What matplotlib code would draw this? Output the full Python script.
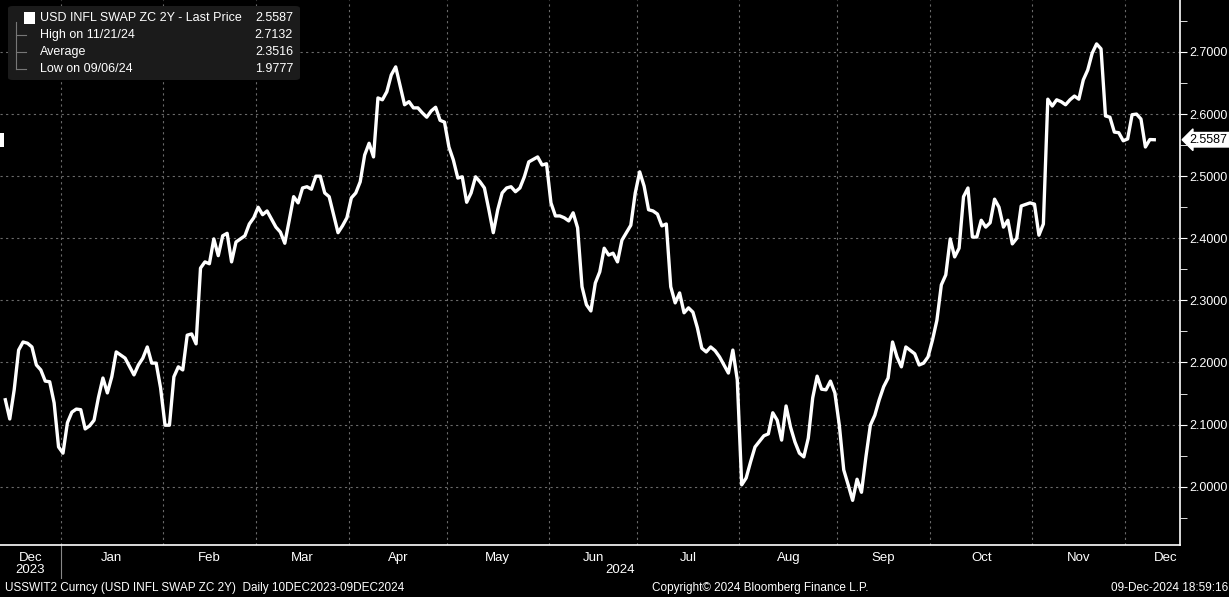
import numpy as np
import pandas as pd
import matplotlib
matplotlib.use('Agg')
import matplotlib.pyplot as plt
from matplotlib.patches import FancyBboxPatch, Rectangle

# business-day index since 11 Dec 2023, and USD 2Y zero-coupon inflation swap level
day = [2, 3, 4, 5, 6, 7, 8, 9, 10, 11, 12, 13, 14, 15, 16, 17, 18, 19, 20, 21,
       22, 23, 24, 25, 26, 27, 28, 29, 31, 32, 33, 34, 35, 36, 37, 38, 39, 40, 41, 42,
       43, 44, 45, 46, 47, 48, 49, 50, 51, 52, 53, 54, 56, 57, 58, 59, 60, 61, 63, 64,
       65, 66, 67, 68, 69, 70, 71, 72, 73, 74, 75, 77, 78, 79, 80, 81, 82, 83, 84, 85,
       86, 87, 88, 89, 90, 92, 93, 94, 95, 96, 97, 98, 99, 100, 101, 102, 103, 104, 105, 106,
       107, 108, 109, 110, 111, 112, 113, 114, 115, 116, 117, 118, 119, 120, 122, 123, 124, 125, 126, 127,
       128, 129, 130, 131, 132, 133, 134, 135, 136, 137, 138, 139, 140, 141, 143, 144, 145, 146, 147, 148,
       149, 150, 151, 152, 153, 154, 155, 156, 157, 158, 159, 160, 161, 162, 163, 164, 165, 166, 167, 168,
       169, 170, 171, 173, 174, 175, 176, 177, 178, 179, 180, 181, 182, 183, 184, 185, 186, 187, 188, 189,
       190, 191, 192, 193, 194, 195, 196, 197, 198, 199, 200, 201, 202, 203, 204, 205, 207, 208, 209, 210,
       211, 212, 213, 214, 215, 216, 217, 218, 219, 220, 221, 222, 223, 224, 225, 226, 227, 228, 229, 230,
       231, 233, 234, 235, 236, 237, 238, 239, 240, 241, 242, 243, 244, 245, 246, 247, 248, 249, 250, 251,
       252, 253, 254, 255, 256, 257, 258, 259, 260, 261]
level = [2.140, 2.109, 2.156, 2.220, 2.233, 2.231, 2.225, 2.196, 2.188, 2.170, 2.169, 2.135, 2.064, 2.054, 2.103, 2.120, 2.125, 2.124, 2.093, 2.098,
         2.107, 2.144, 2.175, 2.151, 2.177, 2.217, 2.212, 2.207, 2.180, 2.196, 2.207, 2.225, 2.199, 2.199, 2.159, 2.099, 2.099, 2.177, 2.193, 2.188,
         2.244, 2.246, 2.230, 2.352, 2.362, 2.359, 2.399, 2.372, 2.404, 2.408, 2.362, 2.394, 2.404, 2.423, 2.433, 2.450, 2.438, 2.444, 2.418, 2.410,
         2.392, 2.429, 2.467, 2.457, 2.481, 2.483, 2.479, 2.500, 2.500, 2.473, 2.467, 2.409, 2.420, 2.433, 2.465, 2.473, 2.491, 2.534, 2.553, 2.531,
         2.626, 2.623, 2.636, 2.663, 2.676, 2.615, 2.620, 2.610, 2.610, 2.602, 2.595, 2.605, 2.611, 2.590, 2.587, 2.547, 2.526, 2.497, 2.499, 2.458,
         2.473, 2.499, 2.491, 2.481, 2.446, 2.409, 2.446, 2.473, 2.481, 2.483, 2.475, 2.481, 2.499, 2.523, 2.531, 2.518, 2.520, 2.457, 2.436, 2.436,
         2.433, 2.428, 2.441, 2.417, 2.322, 2.293, 2.283, 2.328, 2.346, 2.384, 2.373, 2.376, 2.362, 2.397, 2.421, 2.473, 2.507, 2.484, 2.446, 2.444,
         2.439, 2.420, 2.423, 2.322, 2.296, 2.312, 2.280, 2.288, 2.281, 2.256, 2.223, 2.217, 2.225, 2.219, 2.209, 2.196, 2.183, 2.220, 2.172, 2.003,
         2.014, 2.040, 2.064, 2.082, 2.085, 2.119, 2.107, 2.075, 2.130, 2.096, 2.072, 2.054, 2.048, 2.078, 2.143, 2.178, 2.157, 2.156, 2.170, 2.151,
         2.099, 2.027, 2.003, 1.978, 2.012, 1.991, 2.048, 2.099, 2.115, 2.140, 2.161, 2.175, 2.233, 2.209, 2.193, 2.225, 2.214, 2.196, 2.199, 2.209,
         2.236, 2.268, 2.325, 2.341, 2.399, 2.370, 2.384, 2.467, 2.481, 2.402, 2.402, 2.429, 2.418, 2.425, 2.463, 2.450, 2.418, 2.429, 2.391, 2.400,
         2.452, 2.457, 2.455, 2.405, 2.423, 2.624, 2.613, 2.623, 2.620, 2.615, 2.623, 2.629, 2.624, 2.655, 2.671, 2.698, 2.713, 2.705, 2.597, 2.595,
         2.571, 2.570, 2.557, 2.560, 2.599, 2.600, 2.592, 2.547, 2.559, 2.5587]

month_names = ['Dec', 'Jan', 'Feb', 'Mar', 'Apr', 'May', 'Jun', 'Jul', 'Aug', 'Sep', 'Oct', 'Nov', 'Dec']
yticks = [2.0, 2.1, 2.2, 2.3, 2.4, 2.5, 2.6, 2.7]
last_price = 2.5587

legend_rows = [('USD INFL SWAP ZC 2Y - Last Price', '2.5587'),
               ('High on 11/21/24', '2.7132'),
               ('Average', '2.3516'),
               ('Low on 09/06/24', '1.9777')]

FONT = ['Liberation Sans Narrow', 'Liberation Sans', 'DejaVu Sans']
plt.rcParams['font.family'] = FONT

dates = pd.bdate_range('2023-12-11', periods=270)
month_starts = pd.date_range('2024-01-01', '2024-12-01', freq='MS')
bounds = [int(np.searchsorted(dates, m)) - 0.5 for m in month_starts]
xmin, xmax = 0.8, 266.8
edges = [xmin] + bounds + [xmax + 6]
mids = [(edges[i] + edges[i + 1]) / 2 for i in range(len(edges) - 1)]

fig = plt.figure(figsize=(12.29, 5.97), dpi=100, facecolor='black')
ax = fig.add_axes([0, 1 - 545 / 597, 1180 / 1229, 545 / 597], facecolor='black')

ax.plot(day, level, color='white', lw=2.4, solid_joinstyle='round')

ax.set_xlim(xmin, xmax)
ax.set_ylim(1.9061, 2.7837)

for s in ['top', 'left']:
    ax.spines[s].set_visible(False)
ax.spines['right'].set_color('white')
ax.spines['bottom'].set_color('white')
ax.spines['right'].set_linewidth(1.2)
ax.spines['bottom'].set_linewidth(1.2)

ax.yaxis.tick_right()
ax.set_yticks(yticks)
ax.set_yticklabels(['%.4f' % v for v in yticks])
ax.set_yticks(np.arange(1.95, 2.80, 0.1), minor=True)
ax.tick_params(axis='y', which='both', colors='white', direction='out', length=5, labelsize=9, pad=2)

ax.set_xticks(bounds)
ax.set_xticklabels([])
ax.set_xticks(mids, minor=True)
ax.set_xticklabels(month_names, minor=True)
ax.tick_params(axis='x', which='major', colors='white', length=0)
ax.tick_params(axis='x', which='minor', colors='white', length=0, labelsize=9.5, pad=5)

ax.grid(True, which='major', color='#6a6a6a', ls=(0, (2, 3)), lw=0.8)

# year row
ytr = ax.get_xaxis_transform()
ax.text(mids[0], -0.046, '2023', transform=ytr, color='white', ha='center', va='center', fontsize=9.5)
ax.text((bounds[0] + xmax) / 2, -0.046, '2024', transform=ytr, color='white', ha='center', va='center', fontsize=9.5)
ax.plot([bounds[0], bounds[0]], [0, -0.06], transform=ytr, color='#888888', lw=0.8, clip_on=False)

# last price tag
ax.annotate('%.4f' % last_price, xy=(1.0, last_price), xycoords=('axes fraction', 'data'),
            xytext=(7, 0), textcoords='offset points', ha='left', va='center', fontsize=9,
            color='black', bbox=dict(boxstyle='larrow,pad=0.1', fc='white', ec='white'),
            annotation_clip=False)

# legend box
W, H = 1229, 597
fig.patches.append(FancyBboxPatch((8 / W, 1 - 80 / H), 292 / W, 74 / H,
                                  boxstyle='round,pad=0,rounding_size=0.004',
                                  transform=fig.transFigure, fc='#1b1b1b', ec='none'))
fig.patches.append(Rectangle((24 / W, 1 - 24 / H), 11 / W, 12 / H,
                             transform=fig.transFigure, fc='white', ec='none'))
fig.patches.append(Rectangle((0, 1 - 147 / H), 4 / W, 14 / H,
                             transform=fig.transFigure, fc='white', ec='none'))
fig.add_artist(plt.Line2D([16 / W, 16 / W], [1 - 22 / H, 1 - 69 / H], color='#777777', lw=0.8))
for i, (lab, val) in enumerate(legend_rows):
    yy = 1 - (18 + 17 * i) / H
    fig.text(40 / W, yy, lab, color='white', fontsize=9, va='center', ha='left')
    fig.text(293 / W, yy, val, color='white', fontsize=9, va='center', ha='right')
    if i > 0:
        fig.add_artist(plt.Line2D([16 / W, 26 / W], [yy, yy], color='#777777', lw=0.8))

# footer
fig.text(5 / W, 1 - 588 / H, 'USSWIT2 Curncy (USD INFL SWAP ZC 2Y)  Daily 10DEC2023-09DEC2024',
         color='white', fontsize=8.5, va='center', ha='left')
fig.text(760 / W, 1 - 588 / H, 'Copyright\u00a9 2024 Bloomberg Finance L.P.',
         color='white', fontsize=8.5, va='center', ha='center')
fig.text(1228 / W, 1 - 588 / H, '09-Dec-2024 18:59:16',
         color='white', fontsize=8.5, va='center', ha='right')

fig.savefig('out.png', dpi=100, facecolor='black')
